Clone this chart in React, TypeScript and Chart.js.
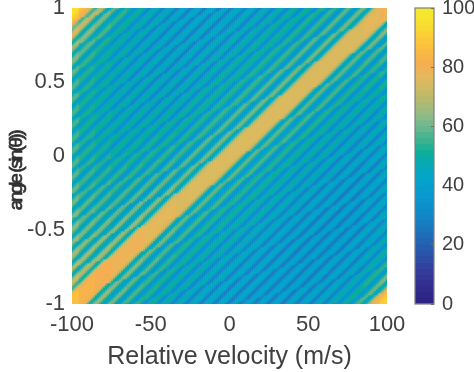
import React, { useEffect, useRef } from "react";
import { Chart, registerables } from "chart.js";

Chart.register(...registerables);

const xTickValues = [-100, -50, 0, 50, 100];
const yTickValues = [-1, -0.5, 0, 0.5, 1];
const colorTickValues = [0, 20, 40, 60, 80, 100];
const xTitle = "Relative velocity (m/s)";
const yTitle = "angle (sin(θ))";

// colour bar, one colour per 2 units from 0 to 100
const colorLevels = [
  "#2d2382", "#2f2787", "#312b8c", "#323091", "#333696", "#323c9b", "#2f44a0", "#2c4ca5", "#2954aa", "#265caf",
  "#2364b3", "#1f6cb8", "#1b74bc", "#177cc0", "#1384c4", "#1089c8", "#0d8fcb", "#0b94cd", "#0899ce", "#069dcd",
  "#04a1cc", "#04a5c7", "#05a7bf", "#06a9b4", "#08aba6", "#0eae98", "#24b092", "#3cb290", "#50b491", "#66b68f",
  "#78b88a", "#8aba85", "#9abb7e", "#a9ba76", "#b7b96f", "#c4b969", "#d0ba64", "#dbba5f", "#e5b85b", "#eeb258",
  "#f5af52", "#f8b34a", "#fab944", "#fbc03e", "#fbc83a", "#fbd036", "#fad834", "#f9df32", "#f7e530", "#f5e92e",
  "#f3ec2c",
];

// level read along a line across the ridge, going towards the upper-left corner
const levelsAboveRidge = [
  74, 74, 74, 74, 73, 72, 68, 58, 44, 40, 50, 58, 60, 56,
  45, 36, 36, 44, 54, 57, 55,
  45, 34, 33, 43, 52, 54, 53,
  44, 33, 32, 42, 50, 52, 51,
  44, 32, 31, 41, 48, 50, 49,
  43, 31, 30, 40, 47, 49, 48,
  42, 30, 29, 38, 46, 47, 46,
  41, 29, 28, 37, 45, 46, 45,
  40, 28, 27, 36, 44, 45, 44,
  40, 28, 27, 36, 43, 44, 43,
  39, 27, 26, 35, 43, 44, 43,
  39, 27, 26, 35, 42, 43, 42,
  39, 27, 26, 35, 42, 43, 42,
  39, 27, 26, 35, 42, 43, 42,
  39, 27, 26, 35, 43, 44, 43,
  40, 28, 27, 36, 43, 44, 43,
  40, 28, 28, 37, 44, 46, 45,
  42, 30, 30, 39, 47, 49, 48,
  44, 33, 33, 43, 51, 54, 54,
  48, 38, 38, 48, 57, 61, 62,
  56, 46, 48, 58, 67, 72, 74,
  76, 78, 80, 82,
];

// level read along a line across the ridge, going towards the lower-right corner
const levelsBelowRidge = [
  74, 74, 74, 74, 73, 72, 68, 58, 44, 39, 48, 56, 58, 54,
  44, 35, 35, 43, 52, 55, 53,
  44, 33, 32, 42, 50, 52, 51,
  43, 32, 31, 41, 48, 50, 49,
  42, 31, 30, 39, 46, 48, 47,
  41, 30, 29, 38, 45, 47, 46,
  40, 29, 28, 37, 44, 45, 44,
  39, 28, 27, 36, 43, 44, 43,
  39, 27, 26, 35, 42, 43, 42,
  38, 27, 26, 34, 41, 42, 41,
  38, 26, 25, 34, 41, 42, 41,
  38, 26, 25, 34, 40, 41, 40,
  38, 26, 25, 34, 40, 41, 40,
  38, 26, 25, 34, 40, 41, 40,
  38, 26, 25, 34, 41, 42, 41,
  38, 27, 26, 34, 41, 42, 41,
  39, 27, 26, 35, 42, 44, 43,
  40, 28, 28, 37, 44, 46, 45,
  42, 31, 31, 40, 48, 50, 50,
  44, 34, 35, 44, 52, 56, 56,
  48, 40, 44, 54, 64, 72, 76,
  80, 82, 84, 86,
];

// brightening read across the width of the map, from -100 to 100 in steps of 10
const levelLiftByColumn = [12, 8, 6, 4, 3, 2, 1, 0, 0, 0, 0, 0, 0, 0, 0, 0, 0, 0, 0, 1, 3];

const velocityColumns = 158;
const sineRows = 149;

function levelAt(velocity: number, sine: number) {
  const offset = Math.round((sine - velocity / 100) / 0.0125);
  const table = offset >= 0 ? levelsAboveRidge : levelsBelowRidge;
  const base = table[Math.min(Math.abs(offset), table.length - 1)];
  return base + levelLiftByColumn[Math.round((velocity + 100) / 10)];
}

function colorOf(level: number) {
  return colorLevels[Math.max(0, Math.min(colorLevels.length - 1, Math.round(level / 2)))];
}

function buildCells() {
  const cells: { x: number; y: number }[] = [];
  const colors: string[] = [];
  for (let r = 0; r < sineRows; r++) {
    for (let c = 0; c < velocityColumns; c++) {
      const x = -100 + (200 * c) / (velocityColumns - 1);
      const y = -1 + (2 * r) / (sineRows - 1);
      cells.push({ x, y });
      colors.push(colorOf(levelAt(x, y)));
    }
  }
  return { cells, colors };
}

const TEXT = "#404040";
const FONT = "'Liberation Sans', Arial, sans-serif";

const yTitlePlugin = {
  id: "squeezedYTitle",
  afterDraw(chart: any) {
    const { ctx, chartArea } = chart;
    ctx.save();
    ctx.translate(17, (chartArea.top + chartArea.bottom) / 2 + 15);
    ctx.rotate(-Math.PI / 2);
    ctx.font = `19px ${FONT}`;
    (ctx as any).letterSpacing = "-2.4px";
    ctx.fillStyle = "#303030";
    ctx.strokeStyle = "#303030";
    ctx.lineWidth = 0.7;
    ctx.textAlign = "center";
    ctx.textBaseline = "middle";
    ctx.fillText(yTitle, 0, 0);
    ctx.strokeText(yTitle, 0, 0);
    ctx.restore();
  },
};

const barFramePlugin = {
  id: "colorBarFrame",
  afterDatasetsDraw(chart: any) {
    const { ctx, chartArea: a } = chart;
    ctx.save();
    ctx.strokeStyle = "#7f7f78";
    ctx.lineWidth = 1.2;
    ctx.strokeRect(a.left, a.top, a.right - a.left, a.bottom - a.top);
    ctx.restore();
  },
};

export default function App() {
  const mapRef = useRef<HTMLCanvasElement>(null);
  const barRef = useRef<HTMLCanvasElement>(null);

  useEffect(() => {
    const { cells, colors } = buildCells();
    const map = new Chart(mapRef.current!, {
      type: "scatter",
      data: {
        datasets: [
          {
            data: cells,
            pointStyle: "rect",
            pointRadius: 1.8,
            pointBorderWidth: 0,
            pointBackgroundColor: colors,
            pointHoverRadius: 1.8,
          } as any,
        ],
      },
      options: {
        animation: false,
        responsive: false,
        parsing: false,
        events: [],
        layout: { padding: { left: 0, right: 87, top: 8, bottom: 0 } },
        plugins: { legend: { display: false }, tooltip: { enabled: false } },
        scales: {
          x: {
            type: "linear",
            min: -100,
            max: 100,
            afterBuildTicks: (s: any) => {
              s.ticks = xTickValues.map((value) => ({ value }));
            },
            afterFit: (s: any) => {
              s.height = 68;
              s.paddingLeft = 0;
              s.paddingRight = 0;
            },
            grid: { display: false, drawTicks: false },
            border: { display: false },
            ticks: { color: TEXT, font: { family: FONT, size: 22 }, padding: 8, maxRotation: 0, autoSkip: false },
            title: { display: true, text: xTitle, color: TEXT, font: { family: FONT, size: 25 }, padding: { top: 4, bottom: 0 } },
          },
          y: {
            type: "linear",
            min: -1,
            max: 1,
            afterBuildTicks: (s: any) => {
              s.ticks = yTickValues.map((value) => ({ value }));
            },
            afterFit: (s: any) => {
              s.width = 72;
              s.paddingTop = 0;
              s.paddingBottom = 0;
            },
            grid: { display: false, drawTicks: false },
            border: { display: false },
            ticks: {
              color: TEXT,
              font: { family: FONT, size: 22 },
              padding: 7,
              autoSkip: false,
              callback: (v: any) => String(v),
            },
          },
        },
      },
      plugins: [yTitlePlugin],
    } as any);

    const bar = new Chart(barRef.current!, {
      type: "bar",
      data: {
        labels: [""],
        datasets: colorLevels.slice(0, -1).map((color) => ({
          data: [2],
          backgroundColor: color,
          borderWidth: 0,
          barPercentage: 1,
          categoryPercentage: 1,
        })),
      },
      options: {
        animation: false,
        responsive: false,
        events: [],
        layout: { padding: { left: 415, right: 0, top: 8, bottom: 68 } },
        plugins: { legend: { display: false }, tooltip: { enabled: false } },
        scales: {
          x: { display: false, stacked: true },
          y: {
            position: "right",
            stacked: true,
            min: 0,
            max: 100,
            afterBuildTicks: (s: any) => {
              s.ticks = colorTickValues.map((value) => ({ value }));
            },
            afterFit: (s: any) => {
              s.width = 40;
              s.paddingTop = 0;
              s.paddingBottom = 0;
            },
            grid: { drawOnChartArea: false, drawTicks: true, tickLength: -3, color: "#7f6a50", z: 1 },
            border: { display: false },
            ticks: { color: TEXT, font: { family: FONT, size: 20 }, padding: 11, autoSkip: false },
          },
        },
      },
      plugins: [barFramePlugin],
    } as any);

    return () => {
      map.destroy();
      bar.destroy();
    };
  }, []);

  const layer: React.CSSProperties = { position: "absolute", left: 0, top: 0, display: "block", filter: "blur(0.5px)" };
  return (
    <div style={{ position: "absolute", left: 0, top: 0, width: 474, height: 372, background: "#fff", overflow: "hidden" }}>
      <canvas ref={mapRef} width={474} height={372} style={layer} />
      <canvas ref={barRef} width={474} height={372} style={layer} />
    </div>
  );
}
